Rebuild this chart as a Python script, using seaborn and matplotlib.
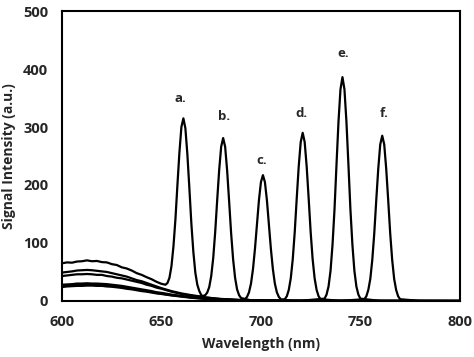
import pandas as pd
import matplotlib
matplotlib.use("Agg")
import matplotlib.pyplot as plt
import seaborn as sns

# --- datos (nm, u.a.) ---
BG_WL = [600, 602.5, 605, 607.5, 610, 612.5, 615, 617.5, 620, 622.5, 625,
         627.5, 630, 632.5, 635, 637.5, 640, 642.5, 645, 647.5, 650]

# espectro a: fondo alto + pico en 661 nm
wl_a = BG_WL + [652, 653, 654, 655, 656, 657, 658, 659, 660, 661, 662, 663, 664,
                665, 666, 667, 668, 669, 670, 672, 675, 680, 690, 700, 720, 750, 800]
sig_a = [65, 66.5, 66, 68, 68.5, 70, 68.5, 69, 67, 66.5, 63.5, 62, 58, 56, 52.5,
         48, 45, 41, 37.5, 33, 29.5,
         28, 31, 40, 60, 94, 141, 200, 256, 300, 315, 298, 253, 195,
         134, 85, 49, 28, 17, 10, 6, 5, 3, 1.5, 0.8, 0.3, 0.2, 0]

# espectro b: pico en 681 nm
wl_b = BG_WL + [655, 660, 665, 670, 672, 673, 674, 675, 676, 677, 678, 679, 680, 681,
                682, 683, 684, 685, 686, 687, 688, 689, 690, 695, 700, 720, 760, 800]
sig_b = [49, 50, 51, 52.5, 53, 53.5, 53, 52, 51, 50, 48, 46, 44, 42, 39, 36, 34,
         31, 28, 25, 22,
         17, 13, 10, 7.5, 10, 14.5, 24, 43, 74, 119, 174, 226, 266, 281,
         266, 225, 172, 117, 72, 40, 20, 10, 5, 1, 0.7, 0.3, 0.1, 0]

# espectro c: pico en 701 nm
wl_c = BG_WL + [655, 660, 665, 670, 675, 680, 685, 690, 692, 693, 694, 695, 696, 697,
                698, 699, 700, 701, 702, 703, 704, 705, 706, 707, 708, 709, 710,
                715, 740, 800]
sig_c = [43, 44, 45, 46, 46, 46.5, 46, 45, 45, 43, 42, 40, 39, 37, 35, 33, 31,
         28, 26, 23, 21,
         16, 12, 9, 7, 5, 3.5, 2.5, 1.6, 3, 7, 15, 30, 55, 90, 132, 174, 205,
         217, 205, 174, 132, 90, 55, 30, 15, 7, 3, 0.4, 0.2, 0]

# espectro d: pico en 721 nm
wl_d = BG_WL + [655, 660, 665, 670, 675, 680, 690, 700, 710, 712, 713, 714, 715, 716,
                717, 718, 719, 720, 721, 722, 723, 724, 725, 726, 727, 728, 729,
                730, 740, 800]
sig_d = [28, 28.5, 29, 30, 30, 30.5, 30, 30, 29.5, 29, 28, 27, 26, 24.5, 23,
         21.5, 20, 18.5, 17, 15, 14,
         11, 8.5, 6.5, 5, 3.5, 2.5, 1.3, 0.8, 0.5, 3, 8, 19, 39, 72, 119, 177,
         232, 274, 290, 274, 232, 177, 119, 72, 39, 19, 8, 3, 0.2, 0]

# espectro e: pico en 741 nm
wl_e = BG_WL + [655, 660, 665, 670, 675, 680, 690, 700, 720, 732, 733, 734, 735, 736,
                737, 738, 739, 740, 741, 742, 743, 744, 745, 746, 747, 748, 749,
                750, 760, 800]
sig_e = [24, 25, 25.5, 26, 26, 26.5, 26.5, 26, 26, 25, 24.5, 23.5, 22.5, 21, 20,
         18.5, 17, 16, 14.5, 13, 12,
         9.5, 7.5, 5.5, 4, 3, 2, 1, 0.6, 0.3, 4, 11, 25, 52, 97, 158, 235,
         309, 365, 386, 365, 309, 235, 158, 97, 52, 25, 11, 4, 0.1, 0]

# espectro f: pico en 761 nm
wl_f = BG_WL + [655, 660, 665, 670, 675, 680, 690, 700, 720, 740, 752, 753, 754, 755,
                756, 757, 758, 759, 760, 761, 762, 763, 764, 765, 766, 767, 768,
                769, 770, 780, 800]
sig_f = [26, 26.5, 27, 27.5, 28, 28, 28, 28, 27.5, 27, 26, 25, 24, 23, 21.5, 20,
         18.5, 17, 15.5, 14, 12.5,
         10, 8, 6, 4.5, 3, 2.2, 1.2, 0.7, 0.3, 0.2, 3, 8, 19, 38, 71, 117, 174,
         228, 270, 285, 270, 228, 174, 117, 71, 38, 19, 8, 3, 0.1, 0]

peak_labels = ["a.", "b.", "c.", "d.", "e.", "f."]
label_wl = [659.5, 681.5, 700.5, 720.5, 741.5, 762]
label_sig = [349, 319, 243, 323, 427, 324]

spectra = {"a": (wl_a, sig_a), "b": (wl_b, sig_b), "c": (wl_c, sig_c),
           "d": (wl_d, sig_d), "e": (wl_e, sig_e), "f": (wl_f, sig_f)}

df = pd.concat([pd.DataFrame({"wl": w, "signal": s, "spectrum": k})
                for k, (w, s) in spectra.items()], ignore_index=True)

sns.set_style("white")
plt.rcParams["font.family"] = ["Open Sans", "DejaVu Sans"]

fig, ax = plt.subplots(figsize=(4.74, 3.57), dpi=100)
fig.subplots_adjust(left=0.131, right=0.970, bottom=0.157, top=0.969)

sns.lineplot(data=df, x="wl", y="signal", units="spectrum", estimator=None,
             color="black", linewidth=1.6, ax=ax)

for txt, x, y in zip(peak_labels, label_wl, label_sig):
    ax.text(x, y, txt, ha="center", va="center", fontsize=9.5, fontweight="bold")

ax.set_xlim(600, 800)
ax.set_ylim(0, 500)
ax.set_xticks([600, 650, 700, 750, 800])
ax.set_yticks([0, 100, 200, 300, 400, 500])
ax.tick_params(length=0, pad=10, labelsize=10.5)
for lab in ax.get_xticklabels() + ax.get_yticklabels():
    lab.set_fontweight("bold")

ax.set_xlabel("Wavelength (nm)", fontsize=10, fontweight="bold", labelpad=6)
ax.set_ylabel("Signal Intensity (a.u.)", fontsize=10, fontweight="bold", labelpad=5)

for sp in ax.spines.values():
    sp.set_color("black")
    sp.set_linewidth(1.5)

fig.savefig("out.png", dpi=100)
